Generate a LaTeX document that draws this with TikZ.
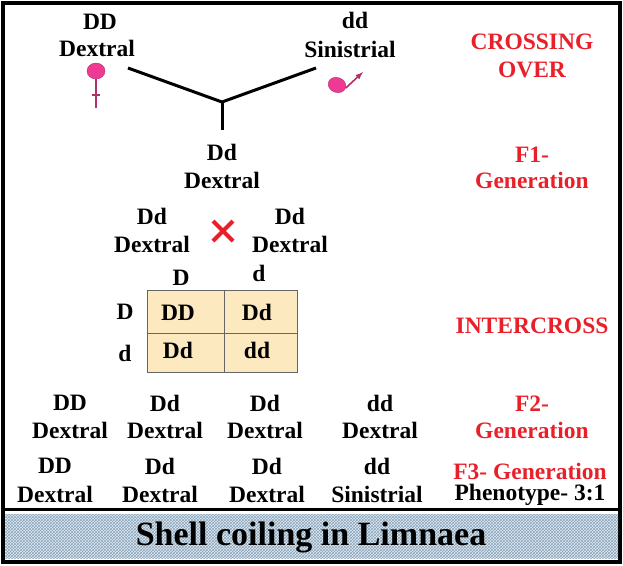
\documentclass[tikz,border=0pt]{standalone}
\usepackage{fontspec}
\setmainfont{Liberation Serif}
\usetikzlibrary{patterns,shapes.geometric,calc}
\definecolor{rd}{HTML}{E8202A}
\definecolor{pk}{HTML}{EE3A93}
\definecolor{pkd}{HTML}{B0306A}
\definecolor{bg}{HTML}{FCE9C0}
\definecolor{bl}{HTML}{DCEAF4}
\definecolor{hb}{HTML}{8FA6BA}
\begin{document}
\begin{tikzpicture}[x=1pt,y=-1pt,
 t/.style={font=\bfseries\fontsize{23.5}{26}\selectfont,inner sep=0pt},
 r/.style={t,text=rd}]
\useasboundingbox (0,0) rectangle (623,565);
\draw[line width=3.5pt] (3,3) rectangle (620,562);
\draw[line width=3pt] (3,509) -- (620,509);
\node[fill=bl,minimum width=612pt,minimum height=44pt,inner sep=0pt] (tb) at (311.5,536) {};
\fill[pattern=crosshatch,pattern color=hb] (5,514) rectangle (618,558);
\node[font=\bfseries\fontsize{34}{36}\selectfont,inner sep=0pt] (title) at (311,537) {Shell coiling in Limnaea};
% parents
\node[t] (p1a) at (100,22) {DD};
\node[t] (p1b) at (97,48) {Dextral};
\node[t] (p2a) at (355,20) {dd};
\node[t] (p2b) at (350,49) {Sinistrial};
\coordinate (l1) at (128,68); \coordinate (l2) at (316,68);
\coordinate (j) at (222,102); \coordinate (j2) at (222,130);
\draw[line width=3pt] (l1) -- (j) -- (l2);
\draw[line width=3pt] (j) -- (j2);
% female
\node[ellipse,draw=pkd,fill=pk,minimum width=18pt,minimum height=16pt,inner sep=0pt] (fem) at (96,71) {};
\draw[pkd,line width=1.6pt] (fem.south) -- (96,108);
\draw[pkd,line width=1.6pt] (92,95) -- (100,95);
% male
\node[ellipse,draw=pkd,fill=pk,minimum width=18pt,minimum height=15pt,inner sep=0pt,rotate=-20] (mal) at (337,85) {};
\coordinate (mt) at (363,72);
\draw[pkd,line width=1.6pt,-latex] (mal.east) -- (mt);
% right labels
\node[r] (c1) at (532,42) {CROSSING};
\node[r] (c2) at (532,70) {OVER};
\node[r] (f1a) at (532,155) {F1-};
\node[r] (f1b) at (532,180) {Generation};
\node[r] (ic) at (532,326) {INTERCROSS};
\node[r] (f2a) at (532,404) {F2-};
\node[r] (f2b) at (532,430) {Generation};
\node[r] (f3) at (530,471) {F3- Generation};
\node[t] (ph) at (530,495) {Phenotype- 3:1};
% F1
\node[t] (a1) at (222,152) {Dd};
\node[t] (a2) at (222,180) {Dextral};
\node[t] (b1) at (152,216) {Dd};
\node[t] (b2) at (152,244) {Dextral};
\node[t] (b3) at (290,216) {Dd};
\node[t] (b4) at (290,244) {Dextral};
\coordinate (xc) at (223,231);
\draw[rd,line width=4pt] ($(xc)+(-10,-10)$) -- ($(xc)+(10,10)$) ($(xc)+(-10,10)$) -- ($(xc)+(10,-10)$);
% punnett
\node[t] (g1) at (181,278) {D};
\node[t] (g2) at (259,273) {d};
\node[t] (g3) at (125,312) {D};
\node[t] (g4) at (125,353) {d};
\draw[fill=bg,draw=black!60,line width=1pt] (147,290) rectangle (297,372);
\draw[black!60,line width=1pt] (224,290) -- (224,372) (147,333) -- (297,333);
\node[t] (c11) at (178,313) {DD};
\node[t] (c12) at (257,312) {Dd};
\node[t] (c21) at (178,350) {Dd};
\node[t] (c22) at (257,350) {dd};
% F2
\node[t] (e1) at (70,403) {DD}; \node[t] (e2) at (70,430) {Dextral};
\node[t] (e3) at (165,403) {Dd}; \node[t] (e4) at (165,430) {Dextral};
\node[t] (e5) at (265,403) {Dd}; \node[t] (e6) at (265,430) {Dextral};
\node[t] (e7) at (380,403) {dd}; \node[t] (e8) at (380,430) {Dextral};
% F3
\node[t] (h1) at (55,466) {DD}; \node[t] (h2) at (55,494) {Dextral};
\node[t] (h3) at (160,466) {Dd}; \node[t] (h4) at (160,494) {Dextral};
\node[t] (h5) at (267,466) {Dd}; \node[t] (h6) at (267,494) {Dextral};
\node[t] (h7) at (377,466) {dd}; \node[t] (h8) at (377,494) {Sinistrial};
\end{tikzpicture}
\end{document}
